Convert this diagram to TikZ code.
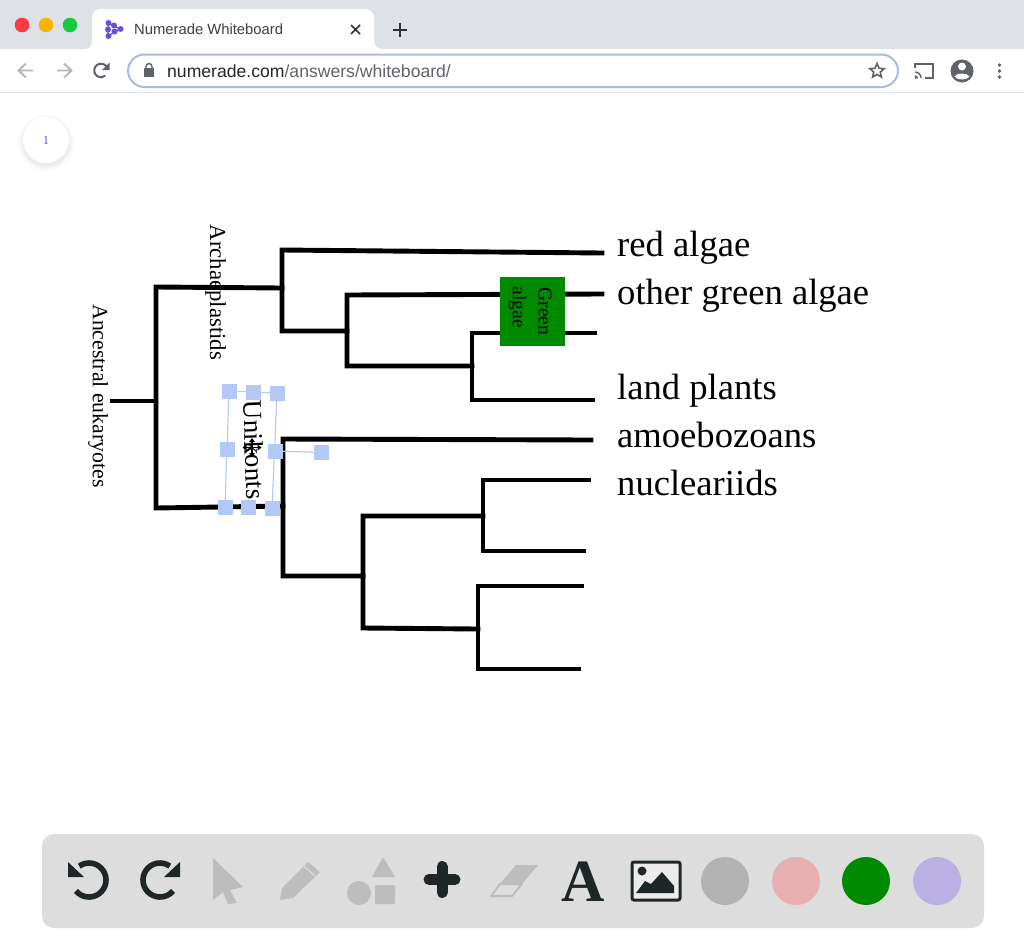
\documentclass[tikz,border=0pt]{standalone}
\usepackage{fontspec}
\setmainfont{Liberation Serif}
\newfontfamily\uifont{Liberation Sans}
\usetikzlibrary{shapes.geometric}
\definecolor{chromebar}{HTML}{DEE1E6}
\definecolor{omni}{HTML}{A9BAE8}
\definecolor{iconink}{HTML}{5F6368}
\definecolor{icongrey}{HTML}{B4B6B8}
\definecolor{favi}{HTML}{6A4FD8}
\definecolor{handle}{HTML}{B4C8F6}
\definecolor{boxgreen}{HTML}{008A00}
\definecolor{tray}{HTML}{DDDDDD}
\definecolor{traygrey}{HTML}{BDBDBD}
\definecolor{trayink}{HTML}{1F2628}
\tikzset{
  x=1pt,y=-1pt,
  branch/.style={line width=4.9pt,line cap=rect,line join=miter,black},
  leaflabel/.style={anchor=base west,inner sep=0pt,font=\fontsize{36.6}{36.6}\selectfont},
  grip/.style={fill=handle,draw=none,minimum size=15pt,inner sep=0pt,rectangle},
  griplink/.style={draw=handle,line width=1.1pt},
  swatch/.style={circle,minimum size=48pt,inner sep=0pt,draw=none},
}
\begin{document}
\begin{tikzpicture}
\useasboundingbox (0,0) rectangle (1024,940);
\fill[white] (0,0) rectangle (1024,940);

% browser chrome
\fill[chromebar] (0,0) rectangle (1024,49);
\fill[white] (84,49) .. controls (90,49) and (92,46) .. (92,41) -- (92,18)
  .. controls (92,12) and (96,9) .. (101,9) -- (365,9)
  .. controls (370,9) and (374,12) .. (374,18) -- (374,41)
  .. controls (374,46) and (377,49) .. (383,49) -- cycle;
\fill[white] (0,49) rectangle (1024,92);
\draw[color=chromebar,line width=1pt] (0,92.5) -- (1024,92.5);
\fill[fill={rgb,255:red,252;green,58;blue,63}] (22,25) circle (7.3);
\fill[fill={rgb,255:red,253;green,180;blue,0}] (46,25) circle (7.3);
\fill[fill={rgb,255:red,22;green,201;blue,63}] (70,25) circle (7.3);
% favicon
\draw[favi,line width=1.2pt] (108,23) -- (108,36) -- (120,29) -- cycle;
\foreach \p in {(108.5,23),(108,29.5),(108.5,36),(114,25.5),(114.5,31.5),(120.5,29)}
  \fill[favi] \p circle (3);
\node[anchor=west,inner sep=0pt,text=black!75] (tabtitle) at (134,29) {\uifont\fontsize{14.8}{15}\selectfont Numerade Whiteboard};
\draw[black!80,line width=1.6pt] (351,25) -- (360,34) (360,25) -- (351,34);
\draw[black!80,line width=2pt] (393,29.5) -- (407,29.5) (400,22.5) -- (400,36.5);
% nav icons
\draw[icongrey,line width=1.9pt] (33,70.5) -- (19,70.5) (26,63.5) -- (18.5,70.5) -- (26,77.5);
\draw[icongrey,line width=1.9pt] (57,70.5) -- (71,70.5) (64,63.5) -- (71.5,70.5) -- (64,77.5);
\draw[iconink,line width=2pt] (101,70.5) ++(-35:6.8) arc[start angle=-35,end angle=-310,radius=6.8];
\fill[iconink] (109.5,62.5) -- (109.5,70) -- (102,70) -- cycle;
% omnibox
\draw[omni,line width=2pt,fill=white,rounded corners=16.5pt] (128,54.5) rectangle (898,87);
\fill[iconink] (144,68) rectangle (154,77);
\draw[iconink,line width=1.4pt] (146,68) -- (146,66.5) arc[start angle=180,end angle=360,radius=3] -- (152,68);
\node[anchor=west,inner sep=0pt] (url) at (167,71) {\uifont\fontsize{17.6}{18}\selectfont\textcolor{black!85}{numerade.com}\textcolor{iconink}{/answers/whiteboard/}};
\node[star,star points=5,star point ratio=2.2,draw=iconink,line width=1.6pt,minimum size=15pt,inner sep=0pt] (fav) at (877,71) {};
% cast
\draw[iconink,line width=1.6pt] (915,68) -- (915,64) -- (933,64) -- (933,78) -- (925,78);
\draw[iconink,line width=1.4pt] (915,72) arc[start angle=-90,end angle=0,radius=6];
\draw[iconink,line width=1.4pt] (915,76) arc[start angle=-90,end angle=0,radius=2.5];
\fill[iconink] (915.5,78) circle (1);
% avatar
\fill[iconink] (962,71) circle (11.5);
\fill[white] (962,66.5) circle (4);
\fill[white] (954.5,76.5) .. controls (957,72.5) and (967,72.5) .. (969.5,76.5) .. controls (966,80.5) and (958,80.5) .. (954.5,76.5) -- cycle;
\foreach \yy in {65,71,77} \fill[iconink] (999.5,\yy) circle (1.9);

% page badge
\foreach \rr/\op in {29/0.006,28/0.008,27/0.01,26/0.012,25/0.015,24/0.02}
  \fill[black,opacity=\op] (46,142.5) circle (\rr);
\fill[white] (46,140) circle (23);
\node[inner sep=0pt,text=favi] (pagenum) at (46,140.5) {\fontsize{12.5}{12.5}\selectfont 1};

% tree coordinates
\coordinate (rootend) at (112,401);
\coordinate (rootjoin) at (156,401);
\coordinate (a) at (156,287);
\coordinate (b) at (156,508);
\coordinate (archjoin) at (282,288);
\coordinate (archtop) at (282,250);
\coordinate (archbot) at (282,331);
\coordinate (redend) at (602,253);
\coordinate (gjoin) at (347,331);
\coordinate (gtop) at (347,295);
\coordinate (gbot) at (347,366);
\coordinate (otherend) at (602,294);
\coordinate (ljoin) at (472,366);
\coordinate (ltop) at (472,333);
\coordinate (lbot) at (472,400);
\coordinate (lone) at (595,333);
\coordinate (landend) at (593,400);
\coordinate (ujoin) at (283,506);
\coordinate (utop) at (283,439);
\coordinate (ubot) at (283,576);
\coordinate (amoeend) at (591,440);
\coordinate (njoin) at (363,576);
\coordinate (ntop) at (363,516);
\coordinate (nbot) at (363,628);
\coordinate (pjoin) at (483,516);
\coordinate (ptop) at (483,480);
\coordinate (pbot) at (483,551);
\coordinate (nucend) at (589,480);
\coordinate (fungiend) at (584,551);
\coordinate (qjoin) at (478,629);
\coordinate (qtop) at (478,586);
\coordinate (qbot) at (478,669);
\coordinate (qoneend) at (582,586);
\coordinate (qtwoend) at (579,669);

\draw[branch] (rootend) -- (rootjoin);
\draw[branch] (archjoin) -- (a) -- (b) -- (ujoin);
\draw[branch] (redend) -- (archtop) -- (archbot) -- (gjoin);
\draw[branch] (otherend) -- (gtop) -- (gbot) -- (ljoin);
\draw[branch] (lone) -- (ltop) -- (lbot) -- (landend);
\draw[branch] (amoeend) -- (utop) -- (ubot) -- (njoin);
\draw[branch] (pjoin) -- (ntop) -- (nbot) -- (qjoin);
\draw[branch] (nucend) -- (ptop) -- (pbot) -- (fungiend);
\draw[branch] (qoneend) -- (qtop) -- (qbot) -- (qtwoend);

% labels
\node[leaflabel] (red) at (617,256) {red algae};
\node[leaflabel] (other) at (617,304) {other green algae};
\node[leaflabel] (land) at (617,399.5) {land plants};
\node[leaflabel] (amoe) at (617,447.5) {amoebozoans};
\node[leaflabel] (nuc) at (617,495.5) {nucleariids};
\node[rotate=-90,inner sep=0pt,font=\fontsize{22.8}{22.8}\selectfont] (arch) at (215.5,292.5) {Archaeplastids};
\node[rotate=-90,inner sep=0pt,font=\fontsize{21.8}{21.8}\selectfont] (anc) at (98,396) {Ancestral eukaryotes};

\node[fill=boxgreen,minimum width=65pt,minimum height=69pt,inner sep=0pt] (green) at (532.5,311.5) {};
\node[rotate=-90,inner sep=0pt,font=\fontsize{19.6}{19.6}\selectfont] (greenw) at (545,311.5) {Green};
\node[rotate=-90,inner sep=0pt,font=\fontsize{19.6}{19.6}\selectfont] (algaew) at (517.5,307.5) {algae};

% selected text box
\node[rotate=-88,inner sep=0pt,font=\fontsize{27}{27}\selectfont] (uni) at (254.5,450) {Unikonts};
\coordinate (h1) at (229,391);
\coordinate (h2) at (253,392);
\coordinate (h3) at (277,393);
\coordinate (h4) at (227,449);
\coordinate (h5) at (275,451);
\coordinate (h6) at (225,507);
\coordinate (h7) at (248.5,507);
\coordinate (h8) at (272,508);
\coordinate (h9) at (321,452.5);
\draw[griplink] (h1) -- (h3) -- (h8);
\draw[griplink] (h1) -- (h6);
\draw[griplink] (h5) -- (h9);
\foreach \g in {h1,h2,h3,h4,h5,h6,h7,h8,h9} \node[grip] at (\g) {};
% move cursor
\draw[black,line width=1.6pt,line cap=butt] (244,447.5) -- (260,447.5) (252,439.5) -- (252,455.5);
\fill[black] (242.5,447.5) -- (246.5,444.5) -- (246.5,450.5) -- cycle
  (261.5,447.5) -- (257.5,444.5) -- (257.5,450.5) -- cycle
  (252,438) -- (249,442) -- (255,442) -- cycle
  (252,457) -- (249,453) -- (255,453) -- cycle;

% bottom tray
\fill[tray,rounded corners=12pt] (42,834) rectangle (984,928);
\draw[trayink,line width=5.6pt] (89,880) ++(-125:17) arc[start angle=-125,end angle=140,radius=17];
\fill[trayink] (68,862) -- (68,877) -- (84,877) -- cycle;
\draw[trayink,line width=5.6pt] (160,880) ++(-55:17) arc[start angle=-55,end angle=-320,radius=17];
\fill[trayink] (180,862) -- (180,877) -- (164,877) -- cycle;
\fill[traygrey] (213,858) -- (243,887) -- (230,890) -- (237,903) -- (228,904) -- (223,892) -- (213,900) -- cycle;
\fill[traygrey] (280,900) -- (282,888) -- (308,862) -- (320,872) -- (293,898) -- cycle;
\draw[tray,line width=1.2pt] (304,866) -- (315,876);
\fill[traygrey] (359,893) circle (12);
\fill[traygrey,rounded corners=1pt] (375,885) rectangle (395,904);
\fill[traygrey] (372,877) -- (383,857) -- (395,877) -- cycle;
\draw[trayink,line width=11pt,line cap=round] (429,879.5) -- (455,879.5) (442,866.5) -- (442,892.5);
\fill[traygrey] (516,865) -- (538,865) -- (522,884) -- (500,884) -- cycle;
\draw[traygrey,line width=2pt,line join=round] (500,884) -- (522,884) -- (512,896) -- (491,896) -- cycle;
\node[inner sep=0pt,anchor=base,font=\fontsize{60}{60}\selectfont\bfseries,text=trayink] (fontA) at (583.5,901) {A};
\draw[trayink,line width=3pt,rounded corners=2pt,fill=tray!60!white] (632,862) rectangle (680,900);
\fill[trayink] (642,871) circle (4.5);
\fill[trayink] (636,893) -- (645,881) -- (651,884) -- (662,872) -- (674,886) -- (674,893) -- cycle;
\node[swatch,fill={rgb,255:red,178;green,178;blue,178}] (s1) at (725,881) {};
\node[swatch,fill={rgb,255:red,232;green,176;blue,176}] (s2) at (796,881) {};
\node[swatch,fill={rgb,255:red,0;green,138;blue,0}] (s3) at (866,881) {};
\node[swatch,fill={rgb,255:red,186;green,176;blue,226}] (s4) at (937,881) {};
\end{tikzpicture}
\end{document}
